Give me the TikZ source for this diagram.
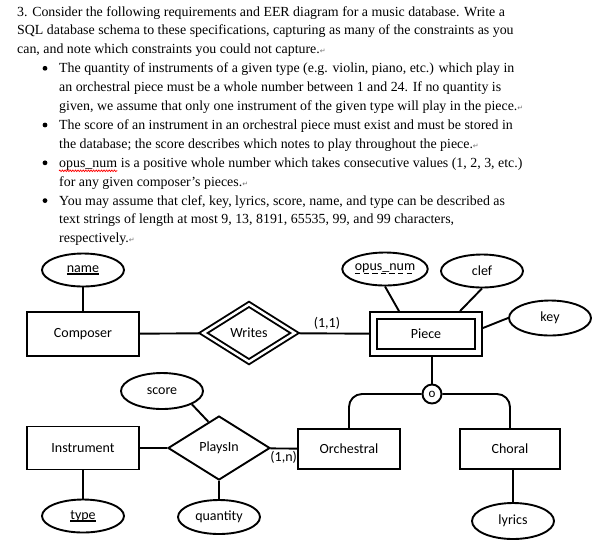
\documentclass[tikz,border=0pt]{standalone}
\usepackage{fontspec}
\setmainfont{Liberation Serif}
\newfontfamily\diagfont{Carlito}
\newfontfamily\symfont{DejaVu Sans}
\usetikzlibrary{shapes.geometric, decorations.pathmorphing}

% Word return marks and underlines for key attributes
\newcommand\ret{{\symfont\fontsize{7}{7}\selectfont\textcolor{black!55}{↵}}}
\newcommand\solidul[1]{\setbox0\hbox{#1}\rlap{\raisebox{-2.8pt}{\rule{\wd0}{1.5pt}}}\box0}
\newcommand\dashul[1]{\setbox0\hbox{#1}\rlap{\raisebox{-4pt}{\hbox to\wd0{\xleaders\hbox{\rule{5.5pt}{1.5pt}\hskip3pt}\hfill}}}\box0}

\tikzstyle{prose} = [
    inner sep=0pt,
    anchor=base west,
    font=\fontsize{13.9}{18.9}\selectfont
]
\tikzstyle{bulletdot} = [
    circle,
    fill=black,
    inner sep=0pt,
    minimum size=4.8pt
]
\tikzstyle{entity} = [
    rectangle,
    minimum width=112pt,
    minimum height=44pt,
    draw=black,
    line width=1.9pt,
    font=\diagfont\fontsize{14}{16}\selectfont
]
\tikzstyle{weakentity} = [
    entity,
    double,
    double distance=5pt,
    minimum width=105pt,
    minimum height=37pt,
    outer sep=4.4pt
]
\tikzstyle{attribute} = [
    ellipse,
    minimum width=82pt,
    minimum height=33pt,
    inner sep=0pt,
    draw=black,
    line width=1.9pt,
    font=\diagfont\fontsize{14}{16}\selectfont
]
\tikzstyle{relation} = [
    diamond,
    minimum width=102pt,
    minimum height=64pt,
    inner sep=0pt,
    draw=black,
    line width=1.9pt,
    font=\diagfont\fontsize{14}{16}\selectfont
]
\tikzstyle{weakrelation} = [
    relation,
    double,
    double distance=2.5pt,
    minimum width=94pt,
    minimum height=60pt,
    outer sep=3.2pt
]
\tikzstyle{disjoint} = [
    circle,
    minimum size=19pt,
    inner sep=0pt,
    draw=black,
    line width=1.9pt,
    font=\diagfont\fontsize{13}{15}\selectfont
]
\tikzstyle{card} = [
    inner sep=1pt,
    font=\diagfont\fontsize{14}{16}\selectfont
]
\tikzstyle{link} = [line width=1.9pt]

\begin{document}
\begin{tikzpicture}[x=1pt, y=-1pt]
\useasboundingbox (0,0) rectangle (599,550);

% question text
\node (l1) [prose] at (17,16) {3. Consider the following requirements and EER diagram for a music database. Write a};
\node (l2) [prose] at (17,34.9) {SQL database schema to these specifications, capturing as many of the constraints as you};
\node (l3) [prose] at (17,53.8) {can, and note which constraints you could not capture.\ret};

\node (b1) [bulletdot] at (45,68.3) {};
\node (l4) [prose] at (59,72.7) {The quantity of instruments of a given type (e.g. violin, piano, etc.) which play in};
\node (l5) [prose] at (59,91.6) {an orchestral piece must be a whole number between 1 and 24. If no quantity is};
\node (l6) [prose] at (59,110.5) {given, we assume that only one instrument of the given type will play in the piece.\ret};

\node (b2) [bulletdot] at (45,125) {};
\node (l7) [prose] at (59,129.4) {The score of an instrument in an orchestral piece must exist and must be stored in};
\node (l8) [prose] at (59,148.3) {the database; the score describes which notes to play throughout the piece.\ret};

\node (b3) [bulletdot] at (45,162.8) {};
\node (l9a) [prose] at (59,167.2) {opus\_num};
\node (l9b) [prose] at (l9a.base east) {\ is a positive whole number which takes consecutive values (1, 2, 3, etc.)};
\node (l10) [prose] at (59,186.1) {for any given composer’s pieces.\ret};
\draw [red, line width=0.7pt, decorate, decoration={snake, amplitude=0.8pt, segment length=2.6pt}]
    ([yshift=-3.6pt]l9a.base west) -- ([yshift=-3.6pt]l9a.base east);

\node (b4) [bulletdot] at (45,200.6) {};
\node (l11) [prose] at (59,205) {You may assume that clef, key, lyrics, score, name, and type can be described as};
\node (l12) [prose] at (59,223.9) {text strings of length at most 9, 13, 8191, 65535, 99, and 99 characters,};
\node (l13) [prose] at (59,242.8) {respectively.\ret};

% EER diagram
\node (composer) [entity] at (83,334) {Composer};
\node (name) [attribute] at (83,270) {\solidul{name}};
\node (writes) [weakrelation] at (249,333) {Writes};
\node (piece) [weakentity] at (426,334) {Piece};
\node (opus) [attribute] at (385,269) {\dashul{opus\_num}};
\node (clef) [attribute] at (482,271) {clef};
\node (key) [attribute, minimum height=35pt] at (550,318) {key};
\node (disj) [disjoint] at (432,394) {o};
\node (orch) [entity, minimum width=102pt, minimum height=40pt] at (349,449) {Orchestral};
\node (choral) [entity, minimum width=100pt, minimum height=40pt] at (510,449) {Choral};
\node (lyrics) [attribute, minimum height=36pt] at (513,521) {lyrics};
\node (instrument) [entity, minimum height=43pt] at (83,448) {Instrument};
\node (playsin) [relation] at (219,448) {PlaysIn};
\node (score) [attribute, minimum height=36pt] at (162,391) {score};
\node (quantity) [attribute, minimum height=34pt] at (219,517) {quantity};
\node (type) [attribute] at (83,516) {\solidul{type}};

\draw [link] (name) -- (composer);
\draw [link] (composer) -- (writes);
\draw [link] (writes) -- (piece) node [card, pos=0.4, above=2pt] {(1,1)};
\draw [link] (opus.south) -- ([xshift=-27pt]piece.north);
\draw [link] (clef.south) -- ([xshift=34pt]piece.north);
\draw [link] ([yshift=6pt]piece.east) -- (key.west);
\draw [link] (disj.north) -- (disj.north |- piece.south);
\draw [link, rounded corners=13pt] (disj.west) -| (orch.north);
\draw [link, rounded corners=13pt] (disj.east) -| (choral.north);
\draw [link] (lyrics.north) -- (lyrics.north |- choral.south);
\draw [link] (instrument) -- (playsin);
\draw [link] (playsin) -- (orch) node [card, midway, below=1pt] {(1,n)};
\draw [link] (score.-24) -- (playsin.112);
\draw [link] (playsin) -- (quantity);
\draw [link] (instrument) -- (type);

\end{tikzpicture}
\end{document}
